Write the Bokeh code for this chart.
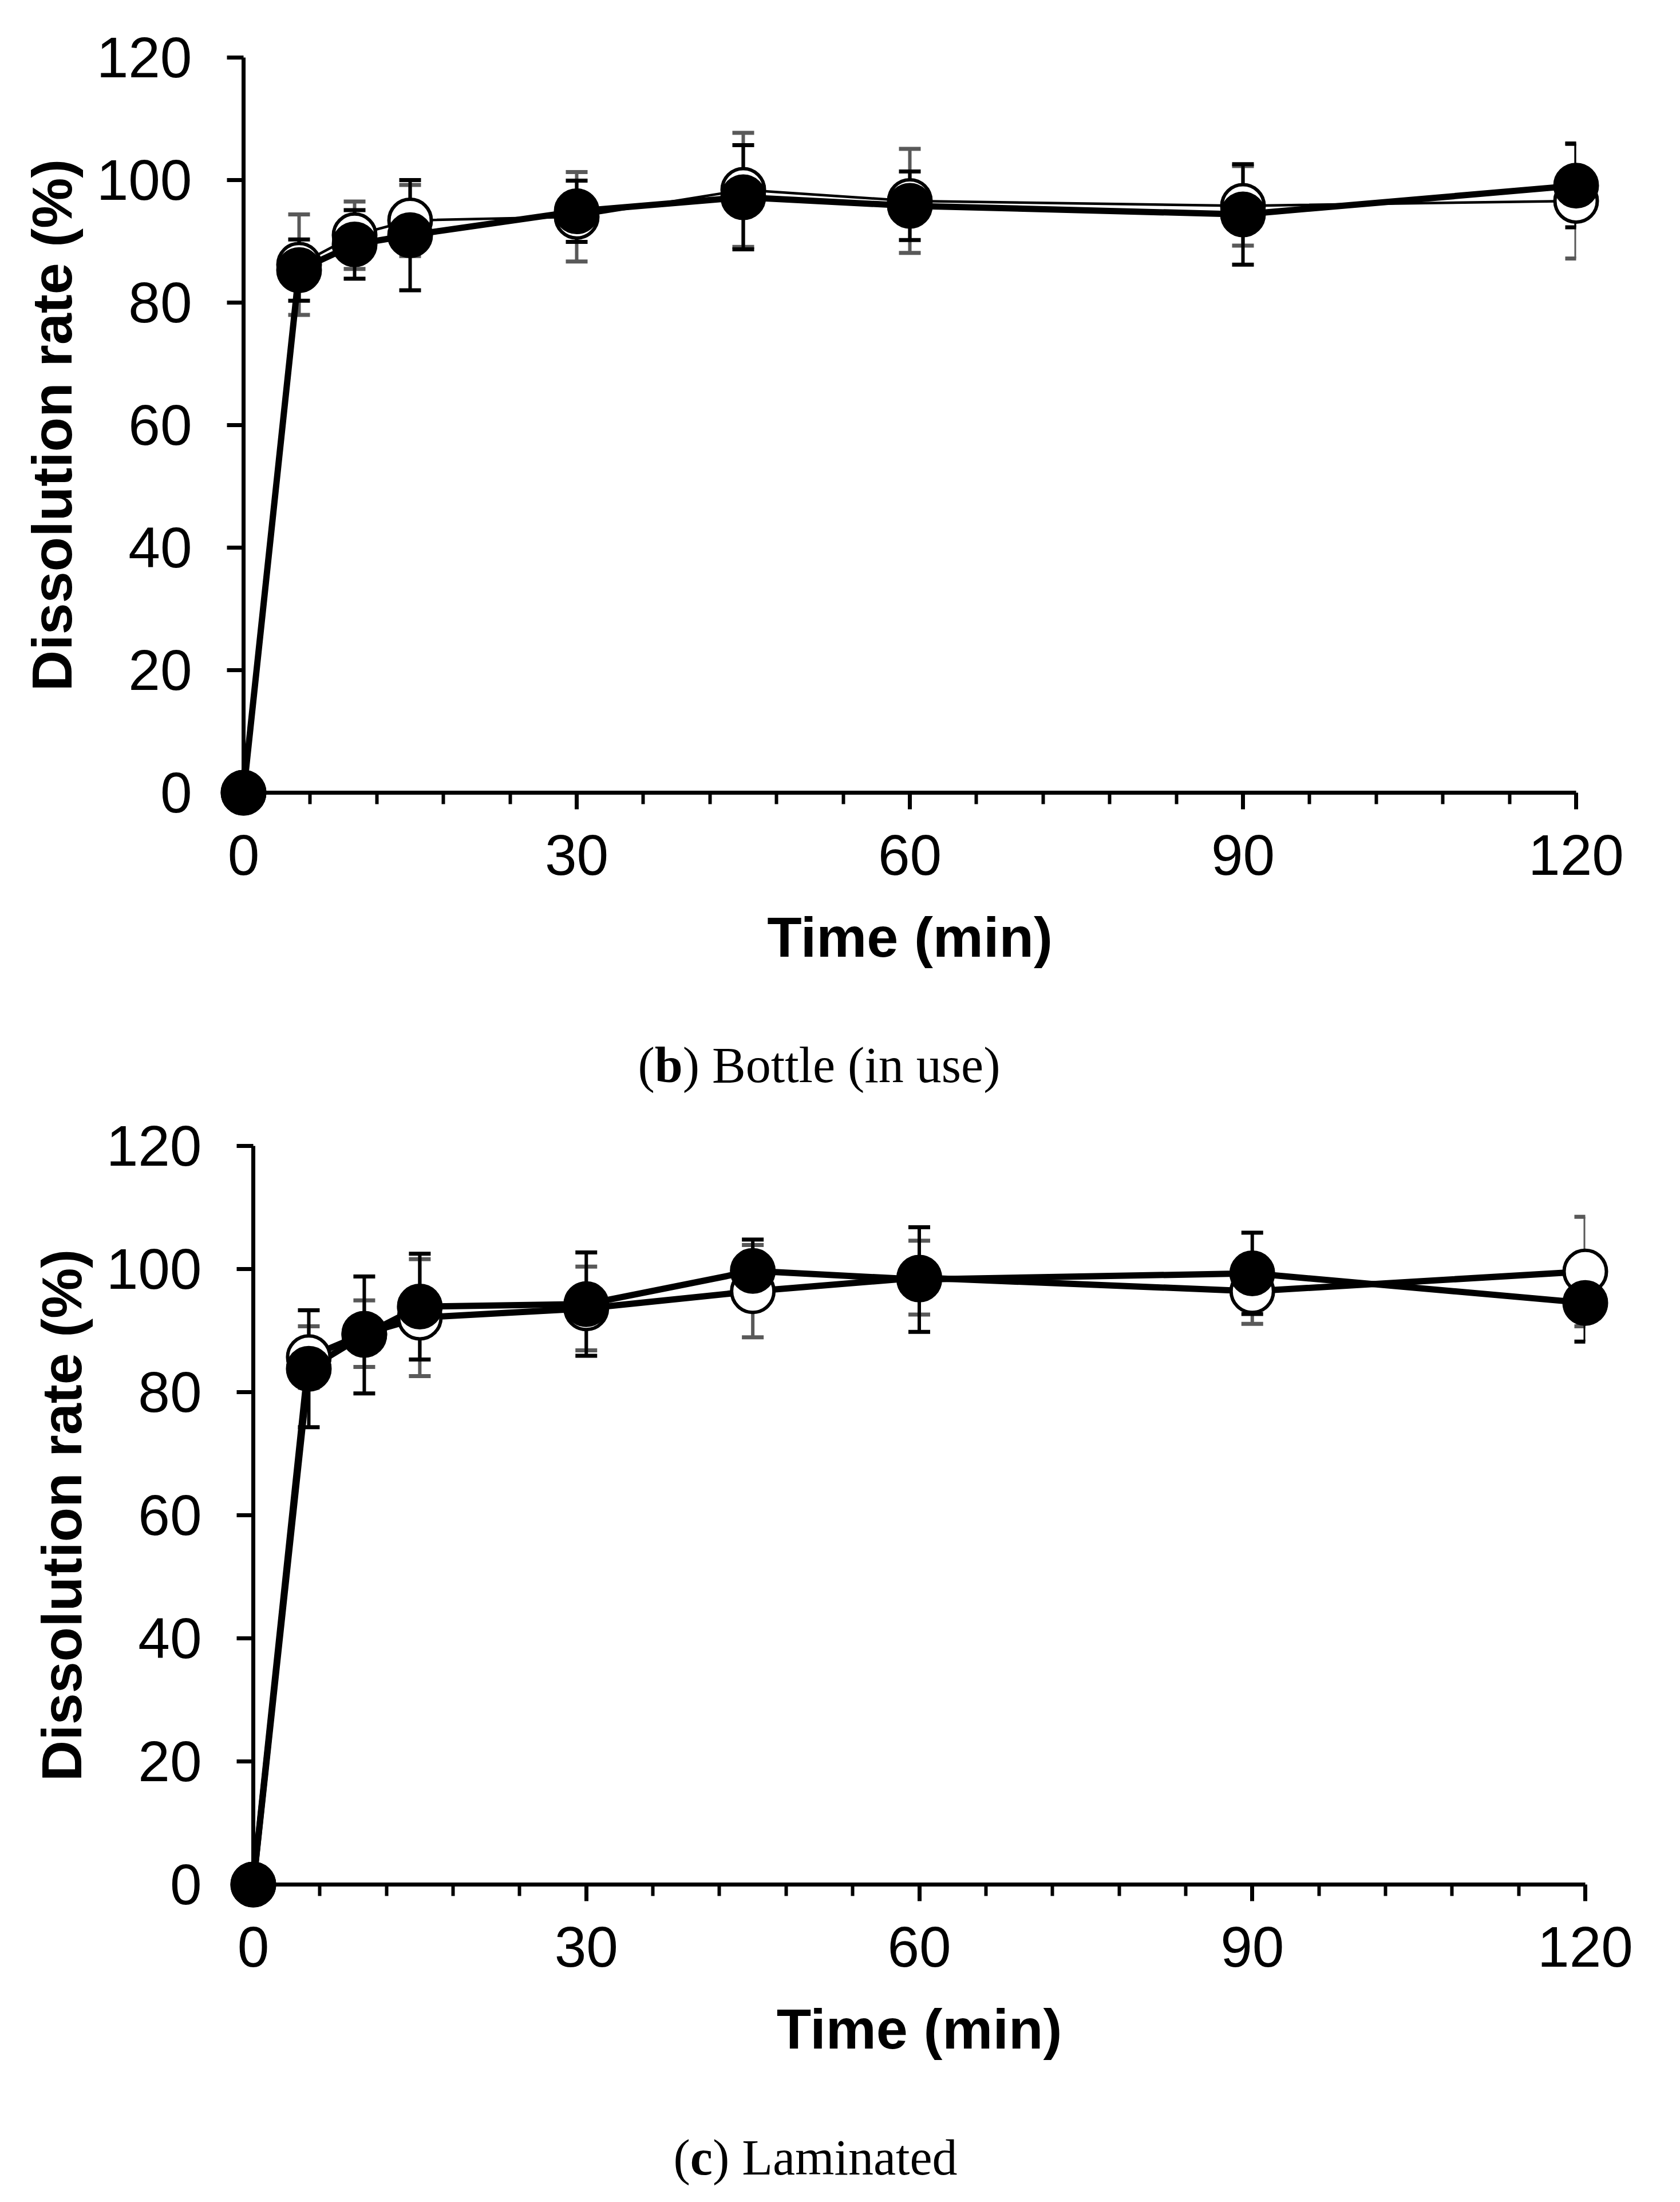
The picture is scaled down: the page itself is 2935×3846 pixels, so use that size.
from bokeh.plotting import figure
from bokeh.models import Range1d, FixedTicker, ColumnDataSource, Whisker, TeeHead
from bokeh.core.properties import value
from bokeh.layouts import column
from bokeh.embed import file_html
from bokeh.resources import INLINE

# ---------------- data ----------------
time_min = [0, 5, 10, 15, 30, 45, 60, 90, 120]

# (b) Bottle (in use)
b_open = [0, 86.2, 91.0, 93.4, 94.0, 98.4, 96.6, 95.8, 96.6]
b_open_sd = [0, 8.2, 5.5, 5.8, 7.3, 9.3, 8.5, 6.5, 9.4]
b_filled = [0, 85.3, 89.5, 91.0, 94.9, 97.2, 95.8, 94.4, 99.1]
b_filled_sd = [0, 5.0, 5.6, 9.0, 5.0, 8.5, 5.6, 8.2, 6.8]

# (c) Laminated
c_open = [0, 85.7, 89.5, 92.1, 93.6, 96.4, 98.6, 96.4, 99.6]
c_open_sd = [0, 5.0, 5.4, 9.5, 6.8, 7.5, 6.0, 5.3, 8.9]
c_filled = [0, 83.8, 89.3, 93.9, 94.3, 99.7, 98.3, 99.3, 94.5]
c_filled_sd = [0, 9.5, 9.5, 8.6, 8.4, 5.1, 8.5, 6.6, 6.3]

x_major = [0, 30, 60, 90, 120]
x_minor = [6, 12, 18, 24, 36, 42, 48, 54, 66, 72, 78, 84, 96, 102, 108, 114]
y_major = [0, 20, 40, 60, 80, 100, 120]

x_title = "Time (min)"
y_title = "Dissolution rate (%)"
cap_b = ["(", "b", ") Bottle (in use)"]
cap_c = ["(", "c", ") Laminated"]

GREY = "#595959"
SANS = "Liberation Sans"
SERIF = "Liberation Serif"
W = 2919


def whiskers(p, t, vals, sds, color):
    xs = t[1:]
    lo = [v - s for v, s in zip(vals[1:], sds[1:])]
    hi = [v + s for v, s in zip(vals[1:], sds[1:])]
    src = ColumnDataSource(dict(x=xs, lower=lo, upper=hi))
    w = Whisker(source=src, base="x", lower="lower", upper="upper", dimension="height",
                line_color=color, line_width=6,
                upper_head=TeeHead(size=38, line_color=color, line_width=7),
                lower_head=TeeHead(size=38, line_color=color, line_width=7))
    p.add_layout(w)


def panel(open_v, open_sd, filled_v, filled_sd, open_lw, filled_lw,
          height, left, right, top, bottom):
    p = figure(width=W, height=height,
               x_range=Range1d(0, 120), y_range=Range1d(0, 120),
               output_backend="svg", toolbar_location=None, frame_align=False,
               min_border_left=left, min_border_right=right,
               min_border_top=top, min_border_bottom=bottom,
               background_fill_color="white", border_fill_color="white")
    p.outline_line_color = None
    p.xgrid.grid_line_color = None
    p.ygrid.grid_line_color = None

    p.xaxis.ticker = FixedTicker(ticks=x_major, minor_ticks=x_minor)
    p.yaxis.ticker = FixedTicker(ticks=y_major, minor_ticks=[])
    for ax in (p.xaxis, p.yaxis):
        ax.axis_line_width = 7
        ax.axis_line_color = "black"
        ax.major_tick_line_width = 7
        ax.major_tick_line_color = "black"
        ax.major_tick_in = 0
        ax.major_tick_out = 29
        ax.minor_tick_in = 0
        ax.minor_tick_out = 20
        ax.minor_tick_line_width = 6
        ax.minor_tick_line_color = "black"
        ax.major_label_text_font = SANS
        ax.major_label_text_font_size = "100px"
        ax.major_label_text_color = "black"
        ax.axis_label_text_font = SANS
        ax.axis_label_text_font_size = "99px"
        ax.axis_label_text_font_style = "bold"
        ax.axis_label_text_color = "black"
    p.yaxis.minor_tick_line_color = None
    p.xaxis.major_label_standoff = 45
    p.yaxis.major_label_standoff = 61
    p.xaxis.axis_label_standoff = 50
    p.yaxis.axis_label_standoff = 20
    p.xaxis.axis_label = x_title
    p.yaxis.axis_label = y_title

    whiskers(p, time_min, open_v, open_sd, GREY)
    whiskers(p, time_min, filled_v, filled_sd, "black")

    p.line(time_min, open_v, line_color="black", line_width=open_lw)
    p.scatter(time_min, open_v, size=74, marker="circle", fill_color="white",
              line_color="black", line_width=6, level="overlay")
    p.line(time_min, filled_v, line_color="black", line_width=filled_lw)
    p.scatter(time_min, filled_v, size=78, marker="circle", fill_color="black",
              line_color="black", line_width=2, level="overlay")
    return p


def caption(parts, height, left_px, base_px, letter_w):
    c = figure(width=W, height=height, x_range=Range1d(0, W), y_range=Range1d(0, height),
               x_axis_type=None, y_axis_type=None, title=None, frame_align=False,
               output_backend="svg", toolbar_location=None, min_border=0,
               background_fill_color="white", border_fill_color="white")
    c.grid.visible = False
    c.outline_line_color = None
    paren_w = 29.3
    xs = [left_px, left_px + paren_w, left_px + paren_w + letter_w]
    styles = ["normal", "bold", "normal"]
    for x, t, s in zip(xs, parts, styles):
        c.text(x=[x], y=[base_px], text=[t], text_font=value(SERIF),
               text_font_size=value("88px"), text_font_style=s, text_color="black",
               text_baseline="alphabetic", text_align="left")
    return c


p1 = panel(b_open, b_open_sd, b_filled, b_filled_sd, 4.5, 11,
           1730, 425, 166, 100, 346)
c1 = caption(cap_b, 220, 1114, 90, 48.9)
p2 = panel(c_open, c_open_sd, c_filled, c_filled_sd, 11, 11,
           1700, 442, 150, 51, 359)
c2 = caption(cap_c, 180, 1176, 62, 39.1)

layout = column(p1, c1, p2, c2, spacing=0)
open("out.html", "w").write(file_html(layout, INLINE))
